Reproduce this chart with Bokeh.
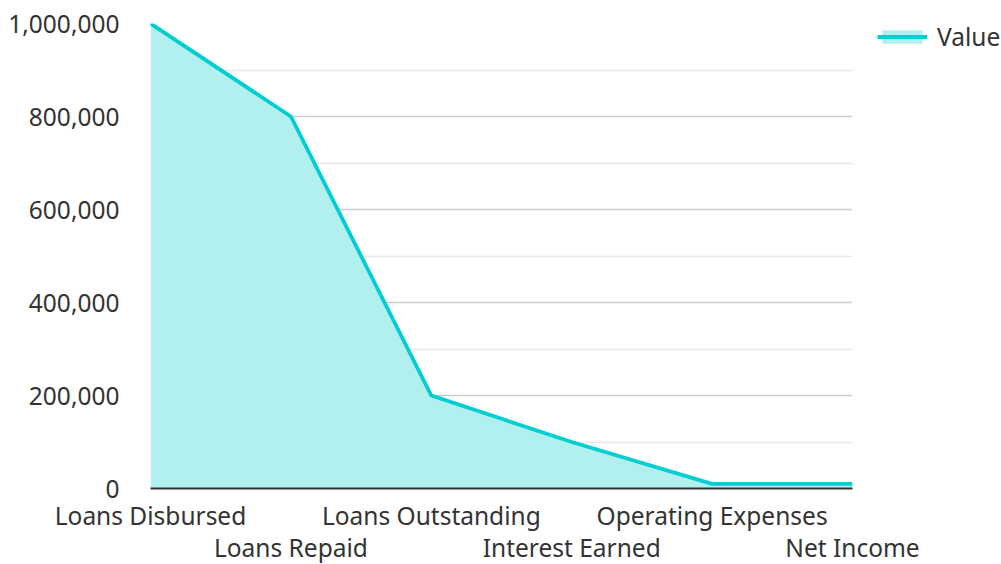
from bokeh.plotting import figure
from bokeh.models import FixedTicker, LinearAxis, Legend, LegendItem, Range1d, ColumnDataSource
from bokeh.embed import file_html
from bokeh.resources import INLINE

categories = ["Loans Disbursed", "Loans Repaid", "Loans Outstanding",
              "Interest Earned", "Operating Expenses", "Net Income"]
values = [1000000, 800000, 200000, 100000, 10000, 10000]
y_ticks = [0, 200000, 400000, 600000, 800000, 1000000]
y_minor = [100000, 300000, 500000, 700000, 900000]
y_labels = ["0", "200,000", "400,000", "600,000", "800,000", "1,000,000"]
series_name = "Value"

FONT = "Noto Sans"
TXT = "#333333"
LINE = "#00CED1"
FILL = "#b2efef"
FS = "24.5px"

xs = list(range(len(categories)))
src = ColumnDataSource(dict(x=xs, y=values, y0=[0] * len(values)))

p = figure(frame_width=702, frame_height=465, output_backend="svg", toolbar_location=None,
           x_range=Range1d(0, len(categories) - 1), y_range=Range1d(0, 1000000),
           x_axis_location=None, min_border_left=150, min_border_right=149,
           min_border_top=23, min_border_bottom=0)
p.outline_line_color = None
p.background_fill_color = "white"

area = p.varea(x="x", y1="y0", y2="y", source=src, fill_color=FILL, fill_alpha=1.0)
ln = p.line(x="x", y="y", source=src, line_color=LINE, line_width=3.8)

# y axis
p.yaxis.ticker = FixedTicker(ticks=y_ticks, minor_ticks=y_minor)
p.yaxis.major_label_overrides = {t: l for t, l in zip(y_ticks, y_labels)}
p.yaxis.axis_line_color = None
p.yaxis.major_tick_line_color = None
p.yaxis.minor_tick_line_color = None
p.yaxis.major_label_standoff = 25
p.yaxis.major_label_text_font = FONT
p.yaxis.major_label_text_font_size = FS
p.yaxis.major_label_text_color = TXT

p.ygrid.grid_line_color = "#cccccc"
p.ygrid.grid_line_width = 1.5
p.ygrid.minor_grid_line_color = "#e8e8e8"
p.ygrid.minor_grid_line_width = 1.5
p.xgrid.grid_line_color = None

# x axes (alternating rows)
even = [i for i in xs if i % 2 == 0]
odd = [i for i in xs if i % 2 == 1]
ax1 = LinearAxis(ticker=FixedTicker(ticks=even, minor_ticks=[]),
                 major_label_overrides={i: categories[i] for i in even})
ax1.axis_line_color = "#333333"
ax1.axis_line_width = 2
ax1.major_tick_line_color = None
ax1.minor_tick_line_color = None
ax1.major_label_standoff = 4
ax2 = LinearAxis(ticker=FixedTicker(ticks=odd, minor_ticks=[]),
                 major_label_overrides={i: categories[i] for i in odd})
ax2.axis_line_color = None
ax2.major_tick_line_color = None
ax2.minor_tick_line_color = None
ax2.major_label_standoff = -10
for ax in (ax1, ax2):
    ax.major_label_text_font = FONT
    ax.major_label_text_font_size = FS
    ax.major_label_text_color = TXT
p.add_layout(ax1, "below")
p.add_layout(ax2, "below")

legend = Legend(items=[LegendItem(label=series_name, renderers=[area, ln])],
                location=(25, 435), orientation="vertical",
                label_text_font=FONT, label_text_font_size=FS,
                label_text_color=TXT, glyph_width=50, glyph_height=17,
                border_line_color=None, background_fill_alpha=0,
                padding=0, margin=0, label_standoff=10, spacing=0)
p.add_layout(legend, "right")

open("out.html", "w").write(file_html(p, INLINE))
